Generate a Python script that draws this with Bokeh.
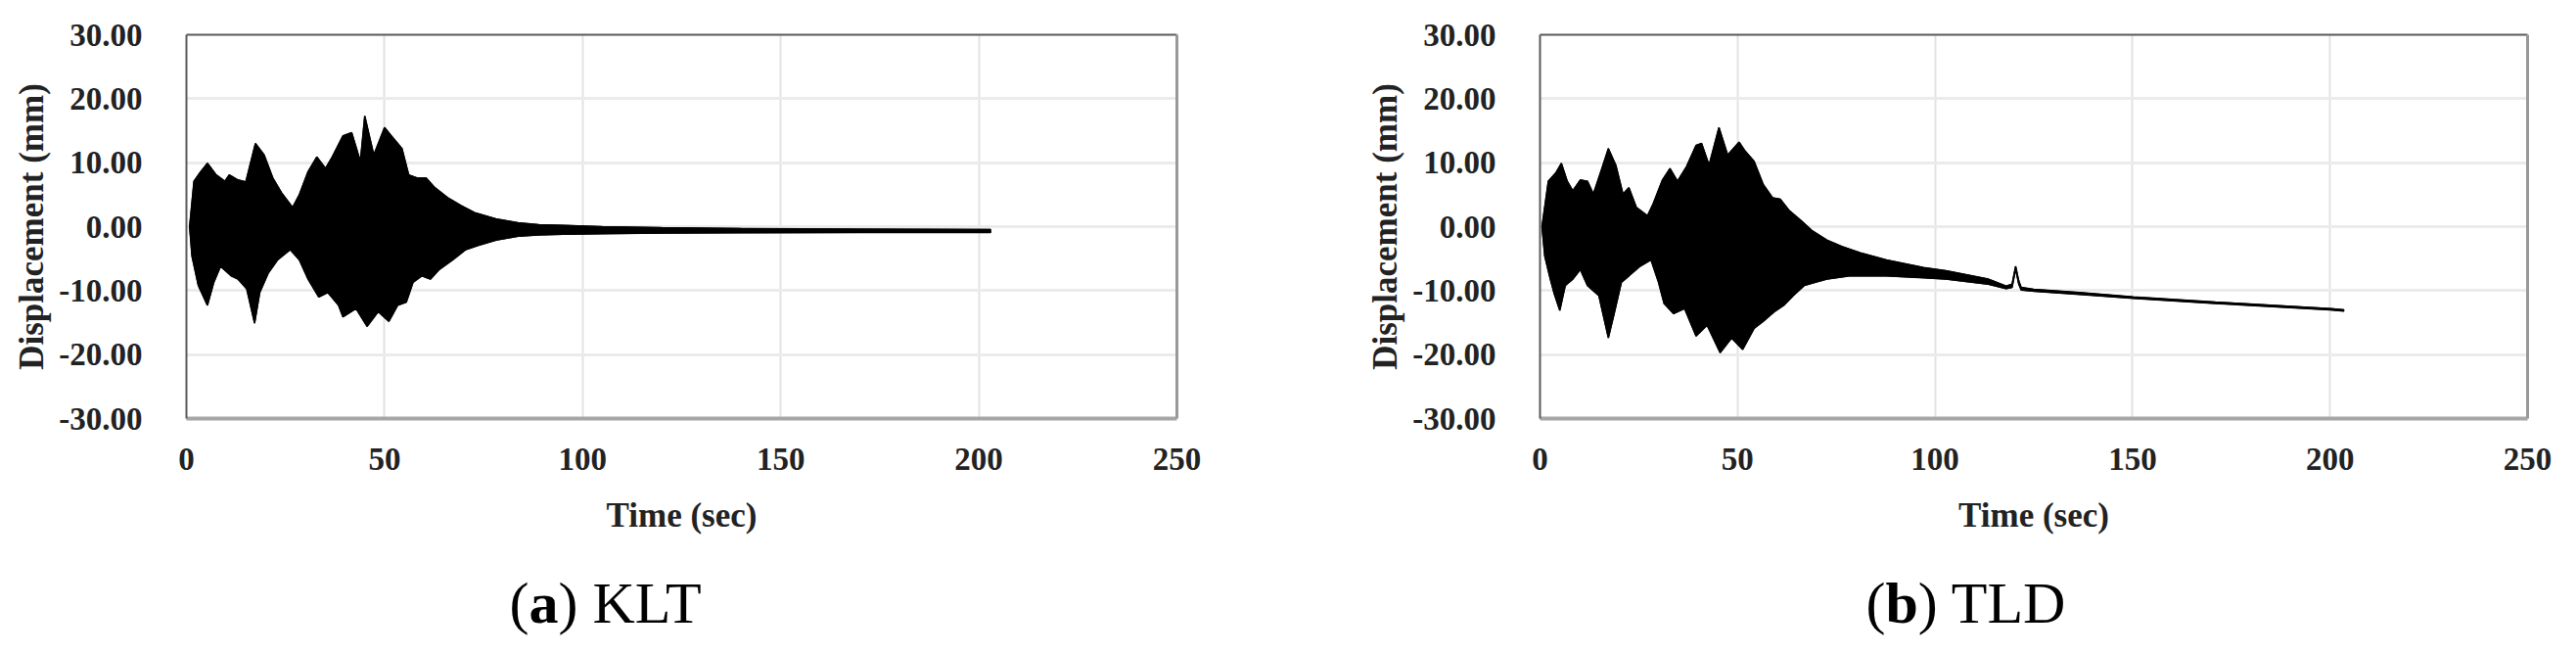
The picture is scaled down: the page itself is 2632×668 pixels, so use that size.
from bokeh.plotting import figure
from bokeh.layouts import row, column
from bokeh.models import FixedTicker, LinearAxis, Range1d
from bokeh.core.properties import value
from bokeh.embed import file_html
from bokeh.resources import INLINE

# ---------------- data ----------------
x_ticks = [0, 50, 100, 150, 200, 250]
x_tick_labels = ["0", "50", "100", "150", "200", "250"]
y_ticks = [-30, -20, -10, 0, 10, 20, 30]
y_tick_labels = ["-30.00", "-20.00", "-10.00", "0.00", "10.00", "20.00", "30.00"]

# (a) KLT : upper / lower envelope of the displacement record
klt_up_t = [0.8, 1.9, 3.5, 5.3, 7.5, 9.7, 10.8, 13, 15, 17.4, 19.6, 21.8, 24, 26.8, 28.5,
            30.7, 32.9, 35.1, 36.8, 39.5, 41.7, 43.9, 45, 47.3, 50, 51.7, 54.4, 56.1,
            58.3, 60.5, 62.7, 66, 69.3, 72.7, 78.2, 83.7, 89, 95, 105, 120, 140, 170, 203]
klt_up_v = [0, 7.1, 8.5, 9.9, 8.1, 7.1, 8.1, 7.3, 7.0, 13.0, 11.2, 7.6, 5.3, 3.0, 5.0,
            8.6, 10.9, 9.1, 10.9, 14.2, 14.7, 10.2, 17.3, 11.2, 15.5, 14.2, 12.2, 8.1,
            7.6, 7.6, 6.1, 4.5, 3.3, 2.2, 1.2, 0.6, 0.3, 0.2, 0.0, -0.15, -0.3, -0.4, -0.45]
klt_lo_t = [0.8, 1.4, 3, 5.3, 6.9, 8.6, 11.3, 13, 15.2, 17.2, 18.5, 20.7, 23, 26.2, 28.5,
            30.7, 33.4, 35.7, 38.4, 39.5, 42.8, 45.6, 48.4, 51.1, 53.3, 55.5, 57.2, 59.4,
            61.6, 63.8, 67.2, 70.5, 73.8, 78.2, 83.7, 89, 95, 105, 120, 140, 170, 203]
klt_lo_v = [0, -4.6, -9.2, -12.3, -8.7, -6.2, -7.7, -8.2, -9.7, -15.1, -10.3, -7.2, -5.2,
            -3.6, -5.2, -8.2, -11.0, -10.3, -12.3, -14.1, -12.8, -15.6, -13.3, -14.8,
            -12.3, -11.8, -8.7, -7.7, -8.2, -6.7, -5.2, -3.6, -2.9, -2.1, -1.5, -1.3,
            -1.2, -1.1, -1.0, -0.95, -0.9, -0.9]

# (b) TLD
tld_up_t = [0.5, 2.1, 4, 5.4, 6.9, 8.3, 10.2, 12, 13.5, 15.4, 17.3, 19.2, 21, 22.5, 24.4,
            27.2, 28.6, 31, 32.9, 34.8, 37.1, 39.5, 40.9, 42.8, 45.3, 47.5, 50.4, 51.8,
            54.2, 56.5, 58.9, 60.8, 63.1, 66, 68.8, 72.6, 76.4, 81.1, 87.7, 97.1, 102.8,
            113.5, 118, 119.5, 120.4, 121.2, 121.8, 125, 136.6, 150.2, 171, 200, 203.5]
tld_up_v = [0, 7.1, 8.4, 9.9, 7.1, 5.6, 7.3, 7.1, 5.1, 8.6, 12.2, 9.6, 5.1, 6.1, 3.0,
            1.7, 3.5, 7.3, 9.1, 7.1, 9.4, 12.7, 13.0, 9.6, 15.5, 11.2, 13.2, 11.9,
            10.2, 6.6, 4.5, 4.3, 2.5, 1.0, -0.6, -2.1, -3.1, -4.1, -5.2, -6.4, -6.9,
            -8.2, -9.3, -9.0, -6.2, -8.5, -9.5, -9.8, -10.3, -11.0, -11.8, -12.8, -13.0]
tld_lo_t = [0.5, 1.2, 2.6, 3.6, 5, 6.4, 8.3, 10.2, 12, 14.9, 17.3, 18.7, 20.6, 22.5, 25.3,
            28.1, 30, 31.4, 33.8, 36.6, 39.5, 42.3, 45.6, 48.5, 51.3, 54.2, 56.5, 59.3,
            61.7, 64.1, 66.9, 69.7, 72.6, 78.3, 87.7, 97.1, 102.8, 113.5, 118, 119.5,
            120.4, 121.2, 121.8, 125, 136.6, 150.2, 171, 200, 203.5]
tld_lo_v = [0, -4.6, -8.2, -10.5, -13.1, -9.2, -8.2, -6.7, -9.2, -10.8, -17.4, -13.8,
            -8.7, -7.7, -6.2, -5.2, -8.7, -12.0, -13.6, -12.8, -17.1, -15.4, -19.7,
            -17.4, -19.2, -15.9, -14.8, -13.3, -12.3, -10.8, -9.2, -8.7, -8.2, -7.7,
            -7.7, -8.0, -8.2, -9.0, -9.7, -9.5, -6.6, -9.0, -9.9, -10.1, -10.6, -11.2,
            -12.0, -13.0, -13.2]

captions = [("(", "a", ") KLT"), ("(", "b", ") TLD")]
caption_letter_em = [0.5, 0.556]   # width of the bold letter (em)

# ---------------- styling / layout ----------------
SERIF = "Liberation Serif"
FIG_W = 1304
CHART_H = 556
CAP_H = 94
X_RANGE = (0, 250)
Y_RANGE = (-30, 30)
BORDER_TOP = 35
FRAME_H = 392
CAP_SIZE = 60


def make_chart(up_t, up_v, lo_t, lo_v, border_left, border_right):
    p = figure(width=FIG_W, height=CHART_H, output_backend="svg", toolbar_location=None,
               title=None,
               x_range=Range1d(*X_RANGE), y_range=Range1d(*Y_RANGE),
               min_border_left=border_left, min_border_right=border_right,
               min_border_top=BORDER_TOP,
               min_border_bottom=CHART_H - BORDER_TOP - FRAME_H)
    p.outline_line_color = None
    p.background_fill_color = "white"

    # grid
    p.xgrid.ticker = FixedTicker(ticks=x_ticks)
    p.ygrid.ticker = FixedTicker(ticks=y_ticks)
    p.xgrid.grid_line_color = "#e2e2e2"
    p.xgrid.grid_line_width = 2
    p.ygrid.grid_line_color = "#ebebeb"
    p.ygrid.grid_line_width = 3

    # signal as filled envelope
    xs = list(up_t) + list(reversed(lo_t))
    ys = list(up_v) + list(reversed(lo_v))
    p.patch(xs, ys, fill_color="black", line_color="black", line_width=1.2)
    p.line(up_t, up_v, line_color="black", line_width=1.5)
    p.line(lo_t, lo_v, line_color="black", line_width=1.5)

    # axes
    xa = p.xaxis[0]
    xa.ticker = FixedTicker(ticks=x_ticks)
    xa.major_label_overrides = dict(zip(x_ticks, x_tick_labels))
    xa.axis_label = "Time (sec)"
    ya = p.yaxis[0]
    ya.ticker = FixedTicker(ticks=y_ticks)
    ya.major_label_overrides = dict(zip(y_ticks, y_tick_labels))
    ya.axis_label = "Displacement (mm)"
    for ax in (xa, ya):
        ax.major_tick_line_color = None
        ax.minor_tick_line_color = None
        ax.major_tick_out = 0
        ax.major_tick_in = 0
        ax.major_label_text_font = SERIF
        ax.major_label_text_font_size = "33px"
        ax.major_label_text_font_style = "bold"
        ax.major_label_text_color = "#222222"
        ax.axis_label_text_font = SERIF
        ax.axis_label_text_font_size = "35px"
        ax.axis_label_text_font_style = "bold"
        ax.axis_label_text_color = "#222222"
    xa.axis_line_color = "#a6a6a6"
    xa.axis_line_width = 4
    xa.major_label_standoff = 30
    xa.axis_label_standoff = 24
    ya.axis_line_color = "#5a5a5a"
    ya.axis_line_width = 2
    ya.major_label_standoff = 45
    ya.axis_label_standoff = 5

    top = LinearAxis(ticker=FixedTicker(ticks=[]), axis_line_color="#5a5a5a", axis_line_width=2,
                     major_tick_line_color=None, minor_tick_line_color=None,
                     major_label_text_font_size="0px")
    right = LinearAxis(ticker=FixedTicker(ticks=[]), axis_line_color="#999999", axis_line_width=3,
                       major_tick_line_color=None, minor_tick_line_color=None,
                       major_label_text_font_size="0px")
    p.add_layout(top, "above")
    p.add_layout(right, "right")
    return p


def make_caption(cap, letter_em, left_px):
    c = figure(width=FIG_W, height=CAP_H, output_backend="svg", toolbar_location=None,
               title=None,
               x_range=Range1d(0, FIG_W), y_range=Range1d(0, CAP_H),
               x_axis_location=None, y_axis_location=None,
               min_border=0, min_border_left=0, min_border_right=0,
               min_border_top=0, min_border_bottom=0)
    c.outline_line_color = None
    c.grid.visible = False
    mid_y = CAP_H - 59          # vertical middle of the caption line
    w_paren = 0.333 * CAP_SIZE
    w_letter = letter_em * CAP_SIZE
    pieces = [(left_px, cap[0], "normal"), (left_px + w_paren, cap[1], "bold"),
              (left_px + w_paren + w_letter, cap[2], "normal")]
    for xx, txt, style in pieces:
        c.text(x=[xx], y=[mid_y], text=[txt], text_font=value(SERIF),
               text_font_size=value(f"{CAP_SIZE}px"), text_font_style=style,
               text_color="black", text_align="left", text_baseline="middle")
    return c


p1 = make_chart(klt_up_t, klt_up_v, klt_lo_t, klt_lo_v, 190, 102)
p2 = make_chart(tld_up_t, tld_up_v, tld_lo_t, tld_lo_v, 269, 26)
c1 = make_caption(captions[0], caption_letter_em[0], 520)
c2 = make_caption(captions[1], caption_letter_em[1], 602)

layout = column(row(p1, p2), row(c1, c2))
open("out.html", "w").write(file_html(layout, INLINE))
